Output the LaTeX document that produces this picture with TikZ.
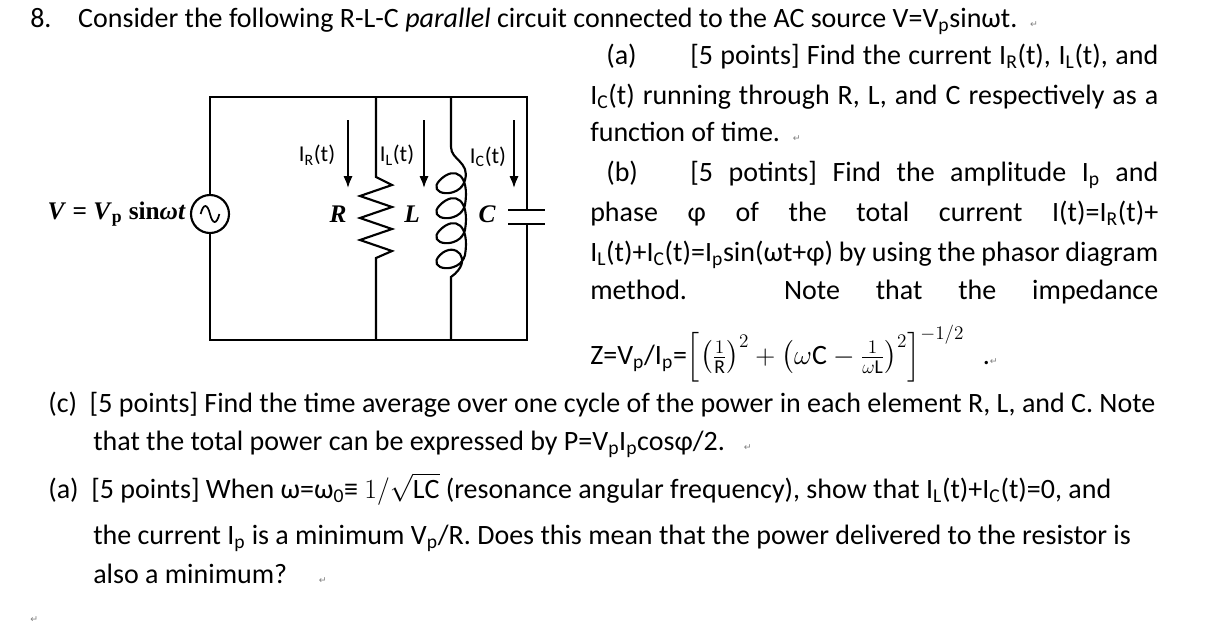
\documentclass[tikz,border=0pt]{standalone}
\usepackage{fontspec}
\usepackage{amsmath}
\setmainfont{Carlito}
\newfontfamily\djv{DejaVu Sans}
\newfontfamily\tms{Liberation Serif}
\newcommand{\rt}{{\djv\color{gray}\fontsize{7}{8}\selectfont ↵}}
\newcommand{\js}[2]{\makebox[#1][s]{#2}}
\begin{document}
\begin{tikzpicture}[x=0.75pt,y=-0.75pt,
  txt/.style={anchor=base west,inner sep=0,font=\fontsize{21}{25}\selectfont},
  wire/.style={line width=1.6pt},
  cur/.style={line width=1.3pt,-{Latex[length=9pt,width=7pt]}},
  lbl/.style={inner sep=0,font=\fontsize{17}{20}\selectfont},
  el/.style={inner sep=0,font=\tms\bfseries\itshape\fontsize{19}{22}\selectfont},
  ret/.style={inner sep=0,anchor=base west}]
\usetikzlibrary{arrows.meta}
\useasboundingbox (0,0) rectangle (1213,636);
\fill[white] (0,0) rectangle (1213,636);
% circuit
\coordinate (tl) at (210,97); \coordinate (tr) at (527,97);
\coordinate (bl) at (210,340); \coordinate (br) at (527,340);
\node[circle,draw,line width=1.6pt,minimum size=38pt*0.75,inner sep=0] (src) at (210,214) {};
\draw[line width=1.3pt] ([xshift=-7pt]src.center) .. controls ([xshift=-5pt,yshift=8pt]src.center) and ([xshift=-2pt,yshift=8pt]src.center) .. (src.center) .. controls ([xshift=2pt,yshift=-8pt]src.center) and ([xshift=5pt,yshift=-8pt]src.center) .. ([xshift=7pt]src.center);
\draw[wire] (src.north) -- (tl) -- (tr) -- (527,210);
\draw[wire] (src.south) -- (bl) -- (br) -- (527,224);
\draw[wire] (508,210) -- (545,210); \draw[wire] (508,224) -- (545,224);
% resistor
\coordinate (rt) at (376,97); \coordinate (rb) at (376,340);
\draw[wire] (rt) -- (376,177) -- (392,185) -- (360,196) -- (392,207) -- (360,218) -- (392,229) -- (360,240) -- (392,251) -- (376,258) -- (rb);
% inductor
\coordinate (lt) at (451,97); \coordinate (lb) at (451,340);
\draw[wire] (lt) -- (451,147) .. controls (451,160) and (470,162) .. (465,180)
  .. controls (460,200) and (425,195) .. (440,180) .. controls (455,165) and (470,175) .. (465,205)
  .. controls (460,225) and (425,220) .. (440,205) .. controls (455,190) and (470,200) .. (465,230)
  .. controls (460,250) and (425,245) .. (440,230) .. controls (455,215) and (470,225) .. (465,255)
  .. controls (460,275) and (425,270) .. (440,255) .. controls (455,240) and (475,260) .. (451,277) -- (lb);
% currents
\coordinate (a1) at (348,120); \coordinate (a1e) at (348,188);
\coordinate (a2) at (424,120); \coordinate (a2e) at (424,188);
\coordinate (a3) at (514,120); \coordinate (a3e) at (514,188);
\draw[cur] (a1) -- (a1e); \draw[cur] (a2) -- (a2e); \draw[cur] (a3) -- (a3e);
\node[lbl] (ir) at (317,155) {I\textsubscript{R}(t)};
\node[lbl] (il) at (397,155) {I\textsubscript{L}(t)};
\node[lbl] (ic) at (488,157) {I\textsubscript{C}(t)};
\node[el] (R) at (338,214) {R};
\node[el] (L) at (412,214) {L};
\node[el] (C) at (487,214) {C};
\node[inner sep=0,anchor=east,font=\tms\bfseries\fontsize{19}{22}\selectfont] (V) at (186,214) {\textit{V} = \textit{V}\textsubscript{p} sin\textit{ωt}};
% text
\node[txt] (l0) at (30,27) {8.\hspace{20pt}Consider the following R-L-C \textit{parallel} circuit connected to the AC source V=V\textsubscript{p}sinωt.\ \ \rt};
\node[txt] (l1a) at (606,64) {(a)};
\node[txt] (l1) at (690,64) {\js{351pt}{[5 points] Find the current I\textsubscript{R}(t), I\textsubscript{L}(t), and}};
\node[txt] (l2) at (590,104) {\js{426pt}{I\textsubscript{C}(t) running through R, L, and C respectively as a}};
\node[txt] (l3) at (590,141) {function of time.\ \ \rt};
\node[txt] (l4a) at (606,181) {(b)};
\node[txt] (l4) at (690,181) {\js{351pt}{[5 potints] Find the amplitude I\textsubscript{p} and}};
\node[txt] (l5) at (590,221) {\js{426pt}{phase φ of the total current I(t)=I\textsubscript{R}(t)+}};
\node[txt] (l6) at (590,261) {\js{426pt}{I\textsubscript{L}(t)+I\textsubscript{C}(t)=I\textsubscript{p}sin(ωt+φ) by using the phasor diagram}};
\node[txt] (l7) at (590,299) {\js{426pt}{method. Note that the impedance}};
\node[txt] (l8) at (590,364) {Z=V\textsubscript{p}/I\textsubscript{p}=$\left[\left(\frac{1}{\mathrm{R}}\right)^{2}+\left(\omega\mathrm{C}-\frac{1}{\omega\mathrm{L}}\right)^{2}\right]^{-1/2}$\hspace{14pt}.\rt};
\node[txt] (l9) at (48,412) {(c)\ \ [5 points] Find the time average over one cycle of the power in each element R, L, and C. Note};
\node[txt] (l10) at (93,450) {that the total power can be expressed by P=V\textsubscript{p}I\textsubscript{p}cosφ/2.\ \ \ \rt};
\node[txt] (l11) at (48,498) {(a)\ \ [5 points] When ω=ω\textsubscript{0}≡ $1/\sqrt{\mathrm{LC}}$ (resonance angular frequency), show that I\textsubscript{L}(t)+I\textsubscript{C}(t)=0, and};
\node[txt] (l12) at (93,544) {the current I\textsubscript{p} is a minimum V\textsubscript{p}/R. Does this mean that the power delivered to the resistor is};
\node[txt] (l13) at (93,583) {also a minimum?\ \ \ \ \ \rt};
\node[ret] (l14) at (30,622) {\rt};
\end{tikzpicture}
\end{document}
